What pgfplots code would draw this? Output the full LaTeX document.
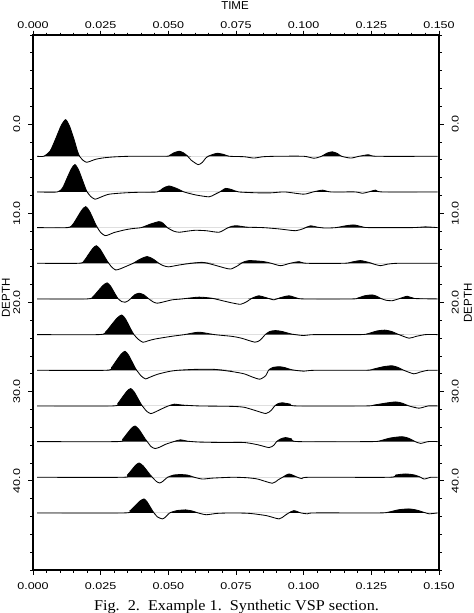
\documentclass[border=0pt]{standalone}
\usepackage{fontspec}
\setmainfont{Liberation Sans}
\newfontfamily\capfont{Liberation Serif}
\usepackage{graphicx}
\usepackage{pgfplots}
\usepackage{pgfplotstable}
\pgfplotsset{compat=1.18}

\pgfplotstableread{
t a
0.0015 0
0.0040 0
0.0064 0.62
0.0085 2.05
0.0105 3.5
0.0121 4.1
0.0136 3.3
0.0152 1.85
0.0164 0.6
0.0172 0
0.0185 -0.45
0.0197 -0.67
0.0210 -0.58
0.0230 -0.35
0.0260 -0.18
0.0300 -0.07
0.0360 0
0.0490 0
0.0505 0.10
0.0520 0.38
0.0540 0.56
0.0555 0.40
0.0570 0.05
0.0585 -0.45
0.0610 -0.94
0.0625 -0.70
0.0640 -0.15
0.0655 0.10
0.0680 0.33
0.0705 0.20
0.0725 0
0.0780 -0.05
0.0816 -0.20
0.0850 -0.05
0.0900 0
0.1000 0
0.1038 -0.22
0.1066 0
0.1086 0.35
0.1106 0.50
0.1125 0.30
0.1140 0
0.1174 -0.20
0.1205 0
0.1240 0.17
0.1270 0
0.1495 0
}\trA

\pgfplotstableread{
t a
0.0015 0
0.0090 0
0.01095 0.46
0.01258 1.54
0.0142 2.6
0.0155 3.07
0.01685 2.46
0.0182 1.38
0.01933 0.46
0.0200 0
0.0213 -0.5
0.0229 -0.82
0.0245 -0.65
0.0280 -0.26
0.0340 -0.10
0.0400 -0.03
0.0459 0
0.0480 0.40
0.0502 0.67
0.0530 0.40
0.0558 0
0.0600 -0.33
0.0650 -0.55
0.0670 -0.30
0.0690 0
0.0712 0.40
0.0735 0.25
0.0760 0
0.0830 -0.10
0.0880 -0.10
0.0930 0
0.1000 -0.25
0.1035 0
0.1070 0.20
0.1100 0
0.1190 0
0.1217 -0.15
0.1240 0
0.1266 0.20
0.1290 0
0.1495 0
}\trB

\pgfplotstableread{
t a
0.0015 0
0.0127 0
0.0147 0.35
0.01644 1.18
0.01814 2.0
0.0195 2.35
0.0208 1.88
0.0221 1.06
0.02315 0.35
0.0238 0
0.0250 -0.55
0.0266 -0.90
0.0280 -0.80
0.0300 -0.55
0.0340 -0.25
0.0370 -0.10
0.0400 0
0.0430 0.35
0.0465 0.67
0.0480 0.50
0.0496 0
0.0520 -0.40
0.0540 -0.52
0.0570 -0.40
0.0600 -0.30
0.0640 -0.35
0.0687 -0.52
0.0715 -0.10
0.0735 0.15
0.0755 0.20
0.0790 0.05
0.0850 0
0.0910 -0.15
0.0970 -0.35
0.1000 -0.10
0.1026 0.20
0.1050 0.05
0.1080 -0.05
0.1120 0
0.1155 0.20
0.1186 0.30
0.1215 0.10
0.1240 0
0.1400 0
0.1450 0.08
0.1495 0
}\trC

\pgfplotstableread{
t a
0.0015 0
0.0170 0
0.01892 0.30
0.02052 0.99
0.02212 1.67
0.0234 1.97
0.02478 1.58
0.02616 0.89
0.02731 0.30
0.0280 0
0.0290 -0.40
0.0305 -0.75
0.0320 -0.65
0.0340 -0.40
0.0370 0
0.0395 0.45
0.0422 0.75
0.0445 0.45
0.0465 0
0.0480 -0.25
0.0500 -0.40
0.0530 -0.25
0.0560 -0.10
0.0625 0.10
0.0670 -0.20
0.0705 -0.50
0.0730 -0.65
0.0755 -0.30
0.0775 0.10
0.0798 0.30
0.0850 0.20
0.0880 0
0.0915 -0.27
0.0950 0
0.0983 0.18
0.1010 0
0.1150 0
0.1180 0.15
0.1210 0.30
0.1240 0.10
0.1260 -0.10
0.1284 -0.27
0.1310 -0.10
0.1350 0
0.1495 0
}\trD

\pgfplotstableread{
t a
0.0015 0
0.0200 0
0.0222 0.27
0.02407 0.90
0.02592 1.53
0.0274 1.80
0.02863 1.44
0.02986 0.81
0.03089 0.27
0.0315 0
0.0328 -0.30
0.0340 -0.37
0.0352 -0.20
0.0360 0
0.0375 0.45
0.0392 0.64
0.0410 0.45
0.0428 0
0.0445 -0.35
0.0459 -0.48
0.0480 -0.35
0.0514 -0.10
0.0550 0
0.0613 0.20
0.0660 0.08
0.0700 -0.20
0.0736 -0.45
0.0767 -0.60
0.0790 -0.30
0.0810 0.10
0.0835 0.35
0.0860 0.15
0.0890 -0.10
0.0915 0.15
0.0946 0.35
0.0975 0.10
0.1000 0
0.1180 0
0.1200 0.10
0.1225 0.35
0.1253 0.45
0.1270 0.30
0.1285 0.05
0.1305 -0.15
0.1327 -0.20
0.1350 0
0.1383 0.30
0.1410 0.05
0.1495 0
}\trE

\pgfplotstableread{
t a
0.0015 0
0.0244 0
0.02692 0.33
0.02902 1.10
0.03112 1.87
0.0328 2.20
0.03415 1.76
0.0355 0.99
0.03663 0.33
0.0373 0
0.0388 -0.50
0.0406 -0.86
0.0425 -0.70
0.0450 -0.50
0.0510 -0.20
0.0560 0
0.0613 0.27
0.0670 0
0.0736 -0.20
0.0770 -0.40
0.0820 -0.85
0.0840 -0.60
0.0858 0
0.0875 0.35
0.0896 0.45
0.0920 0.35
0.0957 0.05
0.1000 -0.10
0.1040 0
0.1210 0
0.1237 0.10
0.1270 0.40
0.1300 0.50
0.1325 0.35
0.1348 0.05
0.1389 -0.40
0.1415 -0.20
0.1450 0
0.1495 0
}\trF

\pgfplotstableread{
t a
0.0015 0
0.0269 0
0.02903 0.32
0.0308 1.07
0.03258 1.81
0.0340 2.13
0.03529 1.70
0.03658 0.96
0.03766 0.32
0.0383 0
0.0400 -0.65
0.0416 -0.97
0.0430 -0.80
0.0460 -0.45
0.0500 -0.15
0.0535 0
0.0600 0.10
0.0670 0.10
0.0736 -0.15
0.0780 -0.40
0.0810 -0.75
0.0838 -1.00
0.0860 -0.60
0.0870 0
0.0885 0.30
0.0909 0.40
0.0930 0.30
0.0957 0.05
0.1000 -0.10
0.1040 0
0.1230 0
0.1260 0.15
0.1295 0.40
0.1327 0.50
0.1350 0.30
0.1370 0
0.1407 -0.40
0.1430 -0.20
0.1460 0
0.1495 0
}\trG

\pgfplotstableread{
t a
0.0015 0
0.0293 0
0.03134 0.29
0.03304 0.98
0.03474 1.66
0.0361 1.95
0.03739 1.56
0.03868 0.88
0.03976 0.29
0.0404 0
0.0420 -0.60
0.0435 -0.86
0.0450 -0.70
0.0474 -0.35
0.0500 0
0.0523 0.20
0.0550 0.10
0.0613 0
0.0736 -0.05
0.0780 -0.15
0.0820 -0.50
0.0860 -0.85
0.0880 -0.50
0.0893 0
0.0905 0.25
0.0921 0.35
0.0950 0.20
0.0973 0
0.1230 0
0.1260 0.10
0.1300 0.30
0.1340 0.45
0.1365 0.30
0.1389 0
0.1426 -0.25
0.1460 0
0.1495 0
}\trH

\pgfplotstableread{
t a
0.0015 0
0.0311 0
0.0331 0.26
0.03473 0.88
0.03638 1.49
0.0377 1.75
0.03905 1.40
0.0404 0.79
0.04153 0.26
0.0422 0
0.0436 -0.55
0.0451 -0.78
0.0470 -0.60
0.0490 -0.30
0.0520 0
0.0545 0.20
0.0570 0.05
0.0613 -0.05
0.0700 -0.10
0.0780 -0.10
0.0830 -0.35
0.0872 -0.67
0.0890 -0.40
0.0900 0
0.0915 0.30
0.0933 0.45
0.0955 0.30
0.0979 0
0.1250 0
0.1283 0.10
0.1320 0.40
0.1364 0.55
0.1390 0.35
0.1412 0
0.1432 -0.20
0.1460 0
0.1495 0
}\trI

\pgfplotstableread{
t a
0.0015 0
0.0330 0
0.03486 0.24
0.03641 0.80
0.03796 1.36
0.0392 1.60
0.04067 1.28
0.04214 0.72
0.04337 0.24
0.0441 0
0.0455 -0.45
0.0468 -0.64
0.0480 -0.45
0.0497 0
0.0520 0.25
0.0545 0.30
0.0570 0.25
0.0596 0
0.0626 -0.20
0.0660 -0.10
0.0736 0
0.0790 -0.05
0.0830 -0.20
0.0884 -0.67
0.0905 -0.30
0.0922 0
0.0946 0.37
0.0977 0
0.0994 -0.15
0.1020 0
0.1315 0
0.1340 0.25
0.1377 0.37
0.1410 0.25
0.1432 0
0.1445 -0.20
0.1470 0
0.1495 0
}\trJ

\pgfplotstableread{
t a
0.0015 0
0.0336 0
0.03582 0.24
0.03767 0.79
0.03952 1.33
0.0410 1.57
0.04211 1.26
0.04322 0.71
0.04415 0.24
0.0447 0
0.0460 -0.45
0.0478 -0.67
0.0490 -0.45
0.0505 0
0.0530 0.25
0.0564 0.34
0.0590 0.20
0.0610 0
0.0640 -0.20
0.0680 -0.05
0.0736 0
0.0800 -0.05
0.0862 -0.30
0.0909 -0.67
0.0930 -0.30
0.0945 0
0.0964 0.26
0.0990 0
0.1014 -0.10
0.1040 0
0.1280 0
0.1315 0.10
0.1350 0.35
0.1389 0.45
0.1420 0.30
0.1451 0
0.1464 -0.10
0.1495 0
}\trK

\newcommand{\tl}[1]{\scalebox{1.28}[1]{#1}}
% #1 table, #2 baseline depth
\newcommand{\trace}[2]{%
  \addplot[fill=black, draw=none, smooth, tension=0.4]
    table[x=t, y expr={max(\thisrow{a},0)-#2}] {#1} -- cycle;
  \addplot[black, line width=0.85bp, smooth, tension=0.4]
    table[x=t, y expr={\thisrow{a}-#2}] {#1};
}

\pgfplotsset{
  vspbase/.style={
    at={(236bp,-302.5bp)}, anchor=center,
    scale only axis, width=406bp, height=535bp,
    xmin=0, xmax=0.15, ymin=-50, ymax=10,
    axis line style={line width=1.8bp},
    tick style={line width=0.9bp, black},
    tick align=outside,
    major tick length=4.5bp, minor tick length=2.5bp,
    xtick={0,0.025,0.05,0.075,0.1,0.125,0.15},
    xticklabels={\tl{0.000},\tl{0.025},\tl{0.050},\tl{0.075},\tl{0.100},\tl{0.125},\tl{0.150}},
    minor xtick={0,0.005,...,0.151},
    ytick={0,-10,-20,-30,-40},
    yticklabels={\tl{0.0},\tl{10.0},\tl{20.0},\tl{30.0},\tl{40.0}},
    minor ytick={-50,-48,...,10},
    tick label style={font=\fontsize{9.8bp}{11bp}\selectfont, inner sep=0pt},
  }
}

\begin{document}
\begin{tikzpicture}
\useasboundingbox (0,0) rectangle (474bp,-613bp);
\begin{axis}[vspbase,
    xticklabel style={anchor=north, yshift=-8bp},
    yticklabel style={xshift=-8bp, rotate=90, anchor=south},
  ]
  \trace{\trA}{3.6}
  \trace{\trB}{7.6}
  \trace{\trC}{11.6}
  \trace{\trD}{15.6}
  \trace{\trE}{19.6}
  \trace{\trF}{23.6}
  \trace{\trG}{27.6}
  \trace{\trH}{31.6}
  \trace{\trI}{35.6}
  \trace{\trJ}{39.6}
  \trace{\trK}{43.6}
\end{axis}
\begin{axis}[vspbase,
    xticklabel pos=upper, yticklabel pos=right,
    xticklabel style={anchor=south, yshift=2bp},
    yticklabel style={xshift=8bp, rotate=90, anchor=north},
  ]
\end{axis}
\node[font=\fontsize{11.5bp}{12bp}\selectfont] at (235bp,-6bp) {TIME};
\node[rotate=90, font=\fontsize{11.5bp}{12bp}\selectfont] at (6bp,-298bp) {DEPTH};
\node[rotate=90, font=\fontsize{11.5bp}{12bp}\selectfont] at (468bp,-303bp) {DEPTH};
\node[anchor=base, font=\capfont\fontsize{15bp}{16bp}\selectfont] at (236.5bp,-610bp) {\scalebox{1.08}[1]{Fig.~~2.~~Example 1.~~Synthetic VSP section.}};
\end{tikzpicture}
\end{document}
